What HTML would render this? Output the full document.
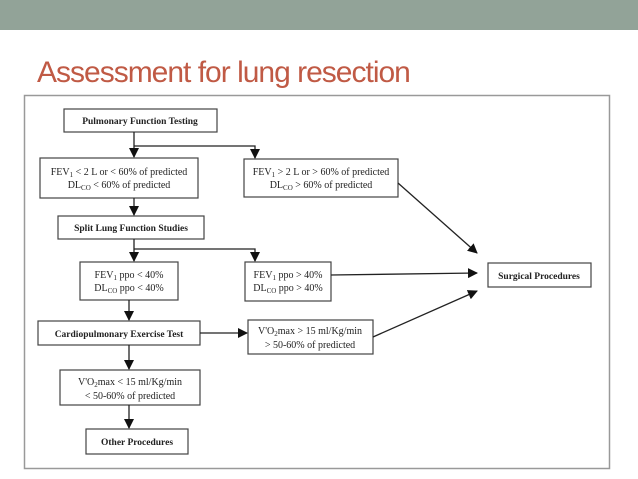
<!DOCTYPE html>
<html><head><meta charset="utf-8"><style>
body{margin:0;width:638px;height:479px;background:#fff;overflow:hidden;position:relative;font-family:"Liberation Serif",serif}
.bar{position:absolute;left:0;top:0;width:638px;height:30px;background:#92a398}
.title{position:absolute;left:37px;top:56px;font-family:"Liberation Sans",sans-serif;font-size:30px;color:#c05a45;letter-spacing:-1px;white-space:nowrap}
</style></head><body>
<div class="bar"></div>
<div class="title">Assessment for lung resection</div>
<svg width="638" height="479" style="position:absolute;left:0;top:0" font-family="Liberation Serif, serif" font-size="10" fill="#222">
<defs><marker id="a" markerWidth="10" markerHeight="10" refX="9" refY="5" orient="auto" markerUnits="userSpaceOnUse"><path d="M0,0 L10,5 L0,10 z" fill="#111"/></marker></defs>
<rect x="24.5" y="95.5" width="585" height="373" fill="none" stroke="#999" stroke-width="1.5"/>
<g fill="#fff" stroke="#444" stroke-width="1.2">
<rect x="64" y="109" width="153" height="23"/>
<rect x="40" y="158" width="158" height="40"/>
<rect x="244" y="159" width="154" height="38"/>
<rect x="58" y="216" width="146" height="23"/>
<rect x="80" y="262" width="98" height="38"/>
<rect x="245" y="262" width="86" height="39"/>
<rect x="488" y="263" width="103" height="24"/>
<rect x="38" y="321" width="162" height="24"/>
<rect x="248" y="320" width="125" height="34"/>
<rect x="60" y="370" width="140" height="35"/>
<rect x="86" y="429" width="102" height="25"/>
</g>
<g stroke="#222" stroke-width="1.3" fill="none">
<line x1="134" y1="132" x2="134" y2="157" marker-end="url(#a)"/>
<polyline points="134,146 255,146 255,158" marker-end="url(#a)"/>
<line x1="134" y1="198" x2="134" y2="215" marker-end="url(#a)"/>
<line x1="134" y1="239" x2="134" y2="261" marker-end="url(#a)"/>
<polyline points="134,249 255,249 255,261" marker-end="url(#a)"/>
<line x1="129" y1="300" x2="129" y2="320" marker-end="url(#a)"/>
<line x1="129" y1="345" x2="129" y2="369" marker-end="url(#a)"/>
<line x1="129" y1="405" x2="129" y2="428" marker-end="url(#a)"/>
<line x1="200" y1="333" x2="247" y2="333" marker-end="url(#a)"/>
<line x1="398" y1="183" x2="477" y2="253" marker-end="url(#a)"/>
<line x1="331" y1="275" x2="477" y2="273" marker-end="url(#a)"/>
<line x1="373" y1="337" x2="477" y2="291" marker-end="url(#a)"/>
</g>
<g text-anchor="middle">
<text x="140" y="124" font-weight="bold" font-size="9.5">Pulmonary Function Testing</text>
<text x="119" y="175">FEV<tspan font-size="7" dy="2">1</tspan><tspan dy="-2"> &lt; 2 L or &lt; 60% of predicted</tspan></text>
<text x="119" y="188">DL<tspan font-size="7" dy="2">CO</tspan><tspan dy="-2"> &lt; 60% of predicted</tspan></text>
<text x="321" y="175">FEV<tspan font-size="7" dy="2">1</tspan><tspan dy="-2"> &gt; 2 L or &gt; 60% of predicted</tspan></text>
<text x="321" y="188">DL<tspan font-size="7" dy="2">CO</tspan><tspan dy="-2"> &gt; 60% of predicted</tspan></text>
<text x="131" y="231" font-weight="bold" font-size="9.5">Split Lung Function Studies</text>
<text x="129" y="278">FEV<tspan font-size="7" dy="2">1</tspan><tspan dy="-2"> ppo &lt; 40%</tspan></text>
<text x="129" y="291">DL<tspan font-size="7" dy="2">CO</tspan><tspan dy="-2"> ppo &lt; 40%</tspan></text>
<text x="288" y="278">FEV<tspan font-size="7" dy="2">1</tspan><tspan dy="-2"> ppo &gt; 40%</tspan></text>
<text x="288" y="291">DL<tspan font-size="7" dy="2">CO</tspan><tspan dy="-2"> ppo &gt; 40%</tspan></text>
<text x="539" y="279" font-weight="bold" font-size="9.5">Surgical Procedures</text>
<text x="119" y="337" font-weight="bold" font-size="9.5">Cardiopulmonary Exercise Test</text>
<text x="310" y="334">V'O<tspan font-size="7" dy="2">2</tspan><tspan dy="-2">max &gt; 15 ml/Kg/min</tspan></text>
<text x="310" y="348">&gt; 50-60% of predicted</text>
<text x="130" y="385">V'O<tspan font-size="7" dy="2">2</tspan><tspan dy="-2">max &lt; 15 ml/Kg/min</tspan></text>
<text x="130" y="399">&lt; 50-60% of predicted</text>
<text x="137" y="445" font-weight="bold" font-size="9.5">Other Procedures</text>
</g>
</svg>
</body></html>
